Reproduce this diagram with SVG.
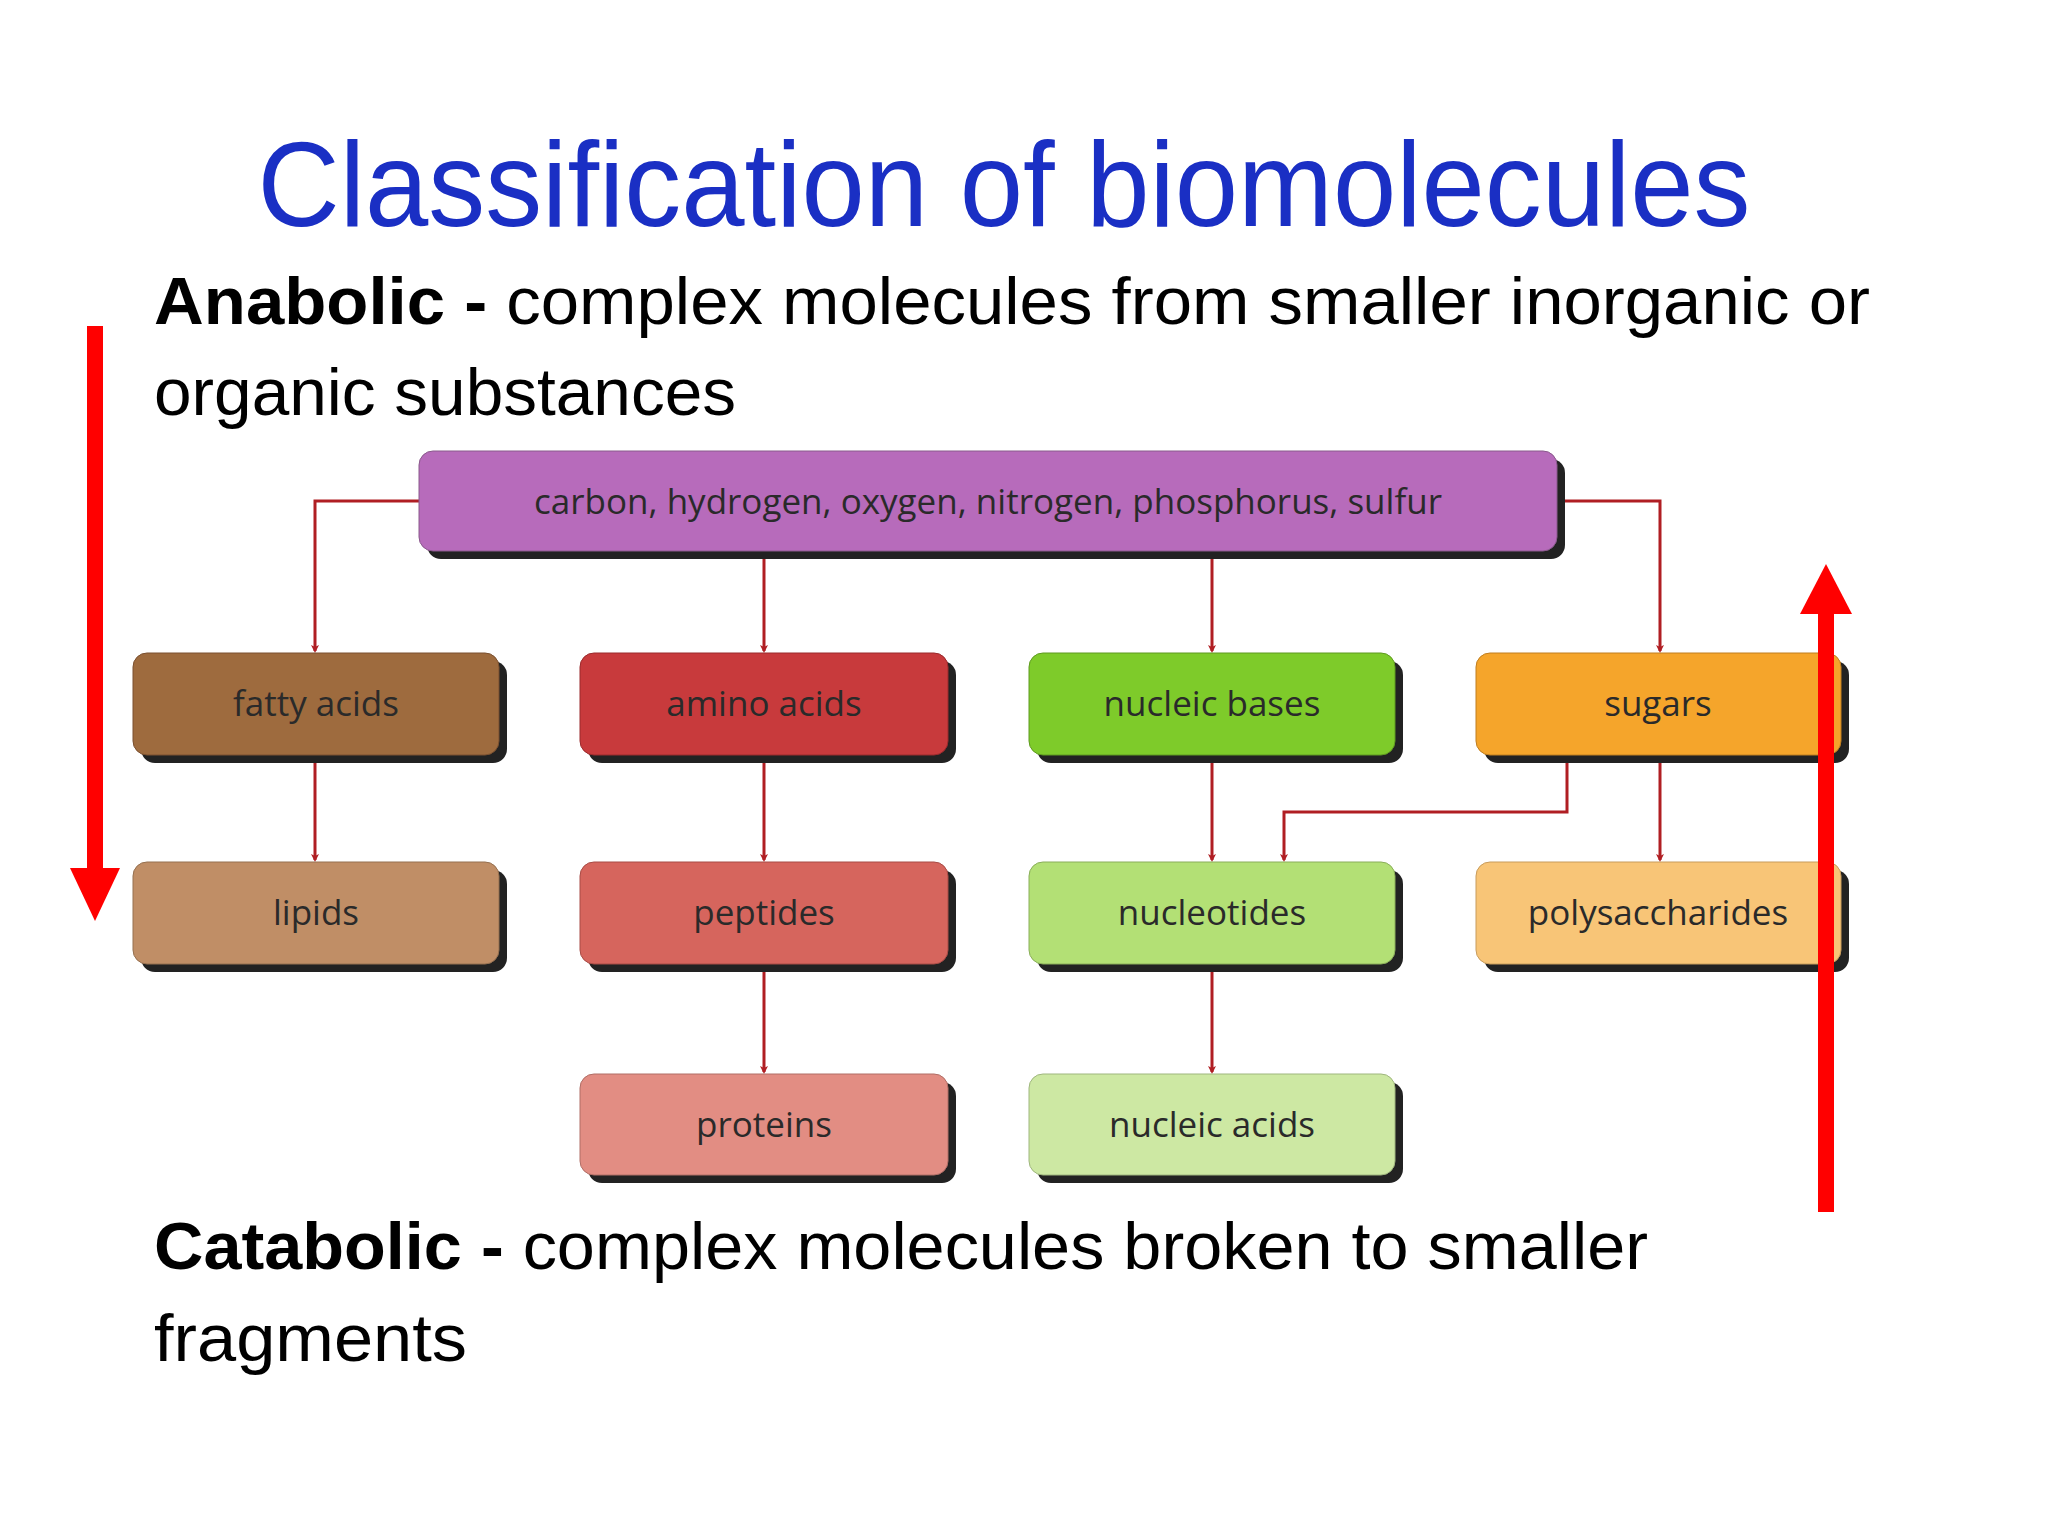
<svg xmlns="http://www.w3.org/2000/svg" width="2048" height="1536" viewBox="0 0 2048 1536">
<defs>
<marker id="ah" markerWidth="8" markerHeight="8" refX="6" refY="4" orient="auto" markerUnits="userSpaceOnUse" viewBox="0 0 8 8"><path d="M0,0 L8,4 L0,8 L2,4 Z" fill="#b01e23"/></marker>
<style>
.sh{fill:#222}
.lb{font-family:"Open Sans","DejaVu Sans",sans-serif;font-size:35px;fill:#2a2a2a;text-anchor:middle}
.con{fill:none;stroke:#b01e23;stroke-width:3;marker-end:url(#ah)}
.big{font-family:"Liberation Sans",sans-serif;font-size:66px;fill:#000}
</style>
</defs>
<rect width="2048" height="1536" fill="#fff"/>
<text x="1004" y="226" font-family="Liberation Sans,sans-serif" font-size="120" fill="#1a2fc4" text-anchor="middle" textLength="1493" lengthAdjust="spacingAndGlyphs">Classification of biomolecules</text>
<text class="big" x="154" y="324" textLength="1716" lengthAdjust="spacingAndGlyphs"><tspan font-weight="bold">Anabolic - </tspan>complex molecules from smaller inorganic or</text>
<text class="big" x="154" y="415" textLength="582" lengthAdjust="spacingAndGlyphs">organic substances</text>
<text class="big" x="154" y="1269" textLength="1494" lengthAdjust="spacingAndGlyphs"><tspan font-weight="bold">Catabolic - </tspan>complex molecules broken to smaller</text>
<text class="big" x="154" y="1361" textLength="313" lengthAdjust="spacingAndGlyphs">fragments</text>
<g id="connectors">
<path class="con" d="M419,501 H315 V651"/>
<path class="con" d="M1557,501 H1660 V651"/>
<path class="con" d="M764,551 V651"/>
<path class="con" d="M1212,551 V651"/>
<path class="con" d="M315,755 V860"/>
<path class="con" d="M764,755 V860"/>
<path class="con" d="M1212,755 V860"/>
<path class="con" d="M1660,755 V860"/>
<path class="con" d="M1567,763 V812 H1284 V860"/>
<path class="con" d="M764,964 V1072"/>
<path class="con" d="M1212,964 V1072"/>
</g>
<g id="elements"><rect class="sh" x="427" y="459" width="1138" height="100" rx="14"/><rect x="419" y="451" width="1138" height="100" rx="14" fill="#b76bbb" stroke="#8a5a8c"/><text class="lb" x="988" y="514">carbon, hydrogen, oxygen, nitrogen, phosphorus, sulfur</text></g>
<g id="fatty"><rect class="sh" x="141" y="661" width="366" height="102" rx="14"/><rect x="133" y="653" width="366" height="102" rx="14" fill="#9e6b3e" stroke="#7a5030"/><text class="lb" x="316" y="716">fatty acids</text></g>
<g id="amino"><rect class="sh" x="588" y="661" width="368" height="102" rx="14"/><rect x="580" y="653" width="368" height="102" rx="14" fill="#c83a3c" stroke="#9a2a2c"/><text class="lb" x="764" y="716">amino acids</text></g>
<g id="bases"><rect class="sh" x="1037" y="661" width="366" height="102" rx="14"/><rect x="1029" y="653" width="366" height="102" rx="14" fill="#7ecb2a" stroke="#5f9a20"/><text class="lb" x="1212" y="716">nucleic bases</text></g>
<g id="sugars"><rect class="sh" x="1484" y="661" width="365" height="102" rx="14"/><rect x="1476" y="653" width="365" height="102" rx="14" fill="#f5a52b" stroke="#c07e20"/><text class="lb" x="1658" y="716">sugars</text></g>
<g id="lipids"><rect class="sh" x="141" y="870" width="366" height="102" rx="14"/><rect x="133" y="862" width="366" height="102" rx="14" fill="#c08e66" stroke="#957050"/><text class="lb" x="316" y="925">lipids</text></g>
<g id="peptides"><rect class="sh" x="588" y="870" width="368" height="102" rx="14"/><rect x="580" y="862" width="368" height="102" rx="14" fill="#d6655d" stroke="#a84c46"/><text class="lb" x="764" y="925">peptides</text></g>
<g id="nucleotides"><rect class="sh" x="1037" y="870" width="366" height="102" rx="14"/><rect x="1029" y="862" width="366" height="102" rx="14" fill="#b3e075" stroke="#8aae5a"/><text class="lb" x="1212" y="925">nucleotides</text></g>
<g id="poly"><rect class="sh" x="1484" y="870" width="365" height="102" rx="14"/><rect x="1476" y="862" width="365" height="102" rx="14" fill="#f8c577" stroke="#c89c5c"/><text class="lb" x="1658" y="925">polysaccharides</text></g>
<g id="proteins"><rect class="sh" x="588" y="1082" width="368" height="101" rx="14"/><rect x="580" y="1074" width="368" height="101" rx="14" fill="#e28d83" stroke="#b06e66"/><text class="lb" x="764" y="1137">proteins</text></g>
<g id="nacids"><rect class="sh" x="1037" y="1082" width="366" height="101" rx="14"/><rect x="1029" y="1074" width="366" height="101" rx="14" fill="#cde8a3" stroke="#9fb67e"/><text class="lb" x="1212" y="1137">nucleic acids</text></g>
<g id="arrows">
<rect x="87" y="326" width="16" height="544" fill="#ff0000"/>
<polygon points="70,868 120,868 95,921" fill="#ff0000"/>
<rect x="1818" y="612" width="16" height="600" fill="#ff0000"/>
<polygon points="1800,614 1852,614 1826,564" fill="#ff0000"/>
</g>
</svg>
